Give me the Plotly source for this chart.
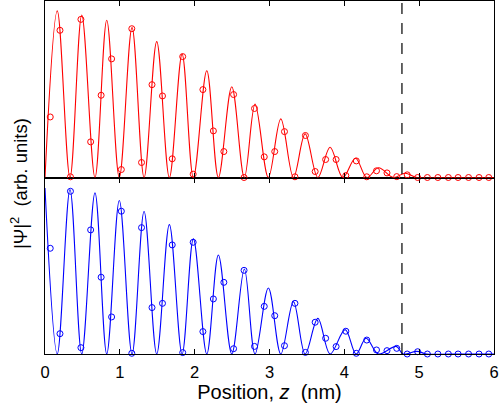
import plotly.graph_objects as go

# ---- data ----
# red (upper panel) curve: maxima / zeros
red_line_z = [0.0, 0.164, 0.334, 0.491, 0.668, 0.825, 0.993, 1.163, 1.324, 1.493, 1.662,
              1.832, 1.983, 2.162, 2.317, 2.496, 2.664, 2.807, 2.985, 3.151, 3.320,
              3.476, 3.646, 3.810, 3.980, 4.149, 4.301, 4.456, 4.656, 4.813, 4.97,
              5.3, 5.7, 6.0]
red_line_v = [0.0, 0.944, 0.0, 0.921, 0.0, 0.891, 0.0, 0.849, 0.0, 0.770, 0.0,
              0.699, 0.0, 0.605, 0.0, 0.514, 0.0, 0.416, 0.0, 0.332, 0.0,
              0.247, 0.0, 0.171, 0.0, 0.109, 0.0, 0.055, 0.0, 0.024, 0.0,
              0.0, 0.0, 0.0]

# blue (lower panel) curve: maxima / zeros
blue_line_z = [0.0, 0.164, 0.334, 0.491, 0.668, 0.825, 0.993, 1.163, 1.324, 1.493, 1.662,
               1.832, 1.983, 2.162, 2.317, 2.496, 2.664, 2.807, 2.985, 3.151, 3.320,
               3.476, 3.646, 3.810, 4.011, 4.158, 4.291, 4.456, 4.693, 4.786, 4.97,
               5.10, 5.4, 5.7, 6.0]
blue_line_v = [0.940, 0.0, 0.932, 0.0, 0.913, 0.0, 0.870, 0.0, 0.807, 0.0, 0.733,
               0.0, 0.652, 0.0, 0.561, 0.0, 0.482, 0.0, 0.374, 0.0, 0.297,
               0.0, 0.202, 0.0, 0.138, 0.0, 0.089, 0.0, 0.043, 0.0, 0.015,
               0.0, 0.0, 0.0, 0.0]

# sampled points (circles)
circle_z = [0.07, 0.20, 0.34, 0.48, 0.61, 0.75, 0.89, 1.02, 1.16, 1.29, 1.43,
            1.57, 1.70, 1.84, 1.98, 2.11, 2.25, 2.39, 2.52, 2.66, 2.80, 2.93,
            3.07, 3.20, 3.34, 3.48, 3.61, 3.75, 3.89, 4.02, 4.16, 4.30, 4.43,
            4.57, 4.70, 4.84, 4.98, 5.11, 5.25, 5.39, 5.52, 5.66, 5.80, 5.93]
red_circles = [0.343, 0.834, 0.004, 0.896, 0.202, 0.466, 0.672, 0.045, 0.843, 0.085, 0.526,
               0.462, 0.106, 0.685, 0.019, 0.498, 0.264, 0.147, 0.470, 0.0, 0.391, 0.117,
               0.147, 0.260, 0.004, 0.238, 0.034, 0.102, 0.102, 0.011, 0.094, 0.004, 0.038,
               0.026, 0.005, 0.015, 0.0, 0.0, 0.0, 0.0, 0.0, 0.0, 0.0, 0.0]
blue_circles = [0.599, 0.115, 0.922, 0.036, 0.703, 0.435, 0.210, 0.809, 0.004, 0.716, 0.263,
                0.287, 0.618, 0.008, 0.633, 0.127, 0.312, 0.406, 0.030, 0.474, 0.043, 0.270,
                0.217, 0.047, 0.287, 0.009, 0.180, 0.089, 0.042, 0.129, 0.004, 0.079, 0.023,
                0.019, 0.032, 0.0, 0.013, 0.0, 0.0, 0.0, 0.0, 0.0, 0.0, 0.0]

cutoff_z = 4.77
x_ticks = [0, 1, 2, 3, 4, 5, 6]

RED = "#ff0000"
BLUE = "#0000ff"
FONT = "Liberation Sans, Arial, Helvetica, sans-serif"

fig = go.Figure()
fig.add_trace(go.Scatter(x=red_line_z, y=red_line_v, mode="lines",
                         line=dict(color=RED, width=1.1, shape="spline", smoothing=1.0),
                         xaxis="x2", yaxis="y2", showlegend=False, hoverinfo="skip"))
fig.add_trace(go.Scatter(x=circle_z, y=red_circles, mode="markers",
                         marker=dict(symbol="circle-open", size=6, color=RED, line=dict(width=1, color=RED)),
                         xaxis="x2", yaxis="y2", showlegend=False, cliponaxis=False))
fig.add_trace(go.Scatter(x=blue_line_z, y=blue_line_v, mode="lines",
                         line=dict(color=BLUE, width=1.1, shape="spline", smoothing=1.0),
                         xaxis="x", yaxis="y", showlegend=False, hoverinfo="skip"))
fig.add_trace(go.Scatter(x=circle_z, y=blue_circles, mode="markers",
                         marker=dict(symbol="circle-open", size=6, color=BLUE, line=dict(width=1, color=BLUE)),
                         xaxis="x", yaxis="y", showlegend=False, cliponaxis=False))

fig.add_shape(type="line", xref="x", yref="paper", x0=cutoff_z, x1=cutoff_z, y0=0, y1=1,
              line=dict(color="black", width=1.2, dash="11px,9px"))

axis_common = dict(showline=True, linecolor="black", linewidth=1, mirror="ticks",
                   showgrid=False, zeroline=False, automargin=False)

fig.update_layout(
    width=500, height=403,
    margin=dict(l=45, r=6, t=1, b=49, autoexpand=False),
    paper_bgcolor="white", plot_bgcolor="white",
    font=dict(family=FONT, color="black"),
    xaxis=dict(domain=[0, 1], range=[0, 6], anchor="y", tickvals=x_ticks,
               ticks="inside", ticklen=5, tickcolor="black", tickfont=dict(size=16.5),
               ticklabelstandoff=3,
               title=dict(text="Position, <i>z</i>\u00a0\u00a0(nm)", font=dict(size=20), standoff=7),
               **axis_common),
    xaxis2=dict(domain=[0, 1], range=[0, 6], anchor="y2", matches="x", tickvals=x_ticks,
                ticks="inside", ticklen=5, tickcolor="black", showticklabels=False,
                **axis_common),
    yaxis=dict(domain=[0, 0.5], range=[0, 1], anchor="x", showticklabels=False, ticks="",
               **axis_common),
    yaxis2=dict(domain=[0.5, 1], range=[0, 1], anchor="x2", showticklabels=False, ticks="",
                **axis_common),
    annotations=[dict(text="|\u03a8|<sup>2</sup>\u00a0\u00a0(arb. units)", xref="paper", yref="paper",
                      x=-0.058, y=0.484, xanchor="center", yanchor="middle", textangle=-90,
                      showarrow=False, font=dict(size=18.5, family=FONT))],
)

fig.write_html("out.html", config={"displayModeBar": False},
               post_script="document.body.style.margin='0';document.body.style.padding='0';")
